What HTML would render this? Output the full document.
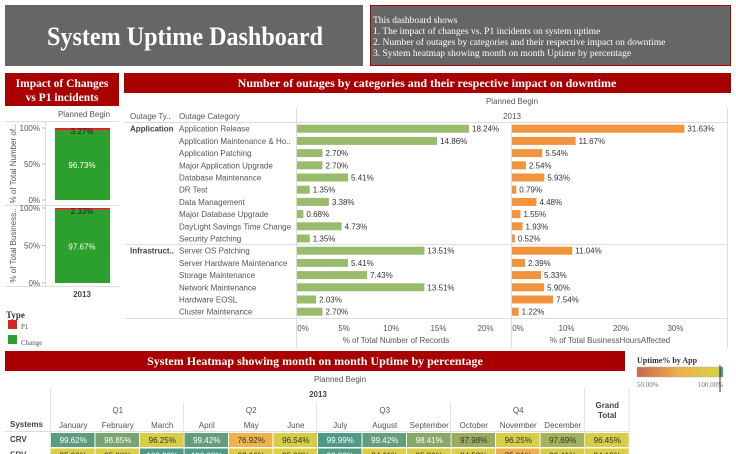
<!DOCTYPE html>
<html><head><meta charset="utf-8"><style>
body{margin:0;width:736px;height:454px;overflow:hidden;background:#fff;font-family:"Liberation Sans",sans-serif}
svg{display:block}
.t{font-family:"Liberation Sans",sans-serif;font-size:8px;fill:#555}
.s{font-family:"Liberation Serif",serif}
</style></head><body>
<svg id="c" width="736" height="454">
<rect x="5" y="5" width="358" height="61" fill="#666"/>
<text x="185" y="45" text-anchor="middle" class="s" font-size="26" font-weight="bold" fill="#fff" textLength="276" lengthAdjust="spacingAndGlyphs">System Uptime Dashboard</text>
<rect x="370.5" y="5.5" width="360" height="60" fill="#666" stroke="#a00"/>
<g class="s" font-size="9.5" fill="#fff">
<text x="373" y="23">This dashboard shows</text>
<text x="373" y="34">1. The impact of changes vs. P1 incidents on system uptime</text>
<text x="373" y="45">2. Number of outages by categories and their respective impact on downtime</text>
<text x="373" y="56">3. System heatmap showing month on month Uptime by percentage</text>
</g>
<rect x="5" y="73" width="114" height="33" fill="#a80000"/>
<text x="62" y="87" text-anchor="middle" class="s" font-size="11.5" font-weight="bold" fill="#fff">Impact of Changes</text>
<text x="62" y="101" text-anchor="middle" class="s" font-size="11.5" font-weight="bold" fill="#fff">vs P1 incidents</text>
<rect x="124" y="73" width="607" height="20" fill="#a80000"/>
<text x="427" y="87" text-anchor="middle" class="s" font-size="12" font-weight="bold" fill="#fff">Number of outages by categories and their respective impact on downtime</text>
<rect x="5" y="351" width="620" height="20" fill="#a80000"/>
<text x="315" y="365" text-anchor="middle" class="s" font-size="12" font-weight="bold" fill="#fff">System Heatmap showing month on month Uptime by percentage</text>
<g id="left"></g><g id="bars"></g><g id="heat"></g>
<g>
<text x="637" y="363" class="s" font-size="8" font-weight="bold" fill="#333">Uptime% by App</text>
<defs><linearGradient id="lg"><stop offset="0" stop-color="#c9674a"/><stop offset="0.5" stop-color="#efb24c"/><stop offset="0.9" stop-color="#d9cf45"/><stop offset="0.95" stop-color="#d9cf45"/><stop offset="0.97" stop-color="#4e9a86"/></linearGradient></defs>
<rect x="637" y="367" width="86" height="10" fill="url(#lg)" stroke="#aaa" stroke-width="0.5"/>
<line x1="720" y1="365" x2="720" y2="392" stroke="#333"/>
<text x="637" y="387" class="s" font-size="7" fill="#777">50.00%</text>
<text x="723" y="387" text-anchor="end" class="s" font-size="7" fill="#777">100.00%</text>
</g>
</svg>
<script>
const NS="http://www.w3.org/2000/svg";
function mk(p,tag,a,txt){const e=document.createElementNS(NS,tag);for(const k in a)e.setAttribute(k,a[k]);if(txt!=null)e.textContent=txt;p.appendChild(e);return e;}

// ---- Left stacked chart data ----
const stackYears=["2013"];
const p1Records=[3.27];
const changeRecords=[96.73];
const p1Hours=[2.33];
const changeHours=[97.67];

// ---- Bar chart data ----
const outageTypes=["Application","Infrastruct.."];
const categories=["Application Release","Application Maintenance & Ho..","Application Patching","Major Application Upgrade","Database Maintenance","DR Test","Data Management","Major Database Upgrade","DayLight Savings Time Change","Security Patching","Server OS Patching","Server Hardware Maintenance","Storage Maintenance","Network Maintenance","Hardware EOSL","Cluster Maintenance"];
const categoryType=[0,0,0,0,0,0,0,0,0,0,1,1,1,1,1,1];
const pctRecords=[18.24,14.86,2.70,2.70,5.41,1.35,3.38,0.68,4.73,1.35,13.51,5.41,7.43,13.51,2.03,2.70];
const pctHours=[31.63,11.67,5.54,2.54,5.93,0.79,4.48,1.55,1.93,0.52,11.04,2.39,5.33,5.90,7.54,1.22];
const recTicks=[0,5,10,15,20];
const hourTicks=[0,10,20,30];

// ---- Heatmap data ----
const quarters=["Q1","Q2","Q3","Q4"];
const months=["January","February","March","April","May","June","July","August","September","October","November","December"];
const systems=["CRV","ERV"];
const uptimeCRV=[99.62,98.85,96.25,99.42,76.92,96.54,99.99,99.42,98.41,97.98,96.25,97.69];
const uptimeERV=[95.00,95.00,100.00,100.00,93.16,95.00,99.93,94.11,95.00,94.53,75.01,96.41];
const grandTotals=[96.45,94.18];

// Left chart
const L=document.getElementById('left');
mk(L,'text',{x:84,y:117,'text-anchor':'middle',class:'t'},'Planned Begin');
mk(L,'line',{x1:5,y1:121.5,x2:119,y2:121.5,stroke:'#ddd'});
mk(L,'line',{x1:5,y1:205.5,x2:119,y2:205.5,stroke:'#ddd'});
mk(L,'line',{x1:5,y1:286.5,x2:119,y2:286.5,stroke:'#ddd'});
mk(L,'line',{x1:45.5,y1:122,x2:45.5,y2:287,stroke:'#ddd'});
function stack(y0,y1,p1,ch,title,nm){
  const h=y1-y0,y=v=>y1-v/100*h;
  mk(L,'text',{transform:`translate(16,${(y0+y1)/2}) rotate(-90)`,'text-anchor':'middle',class:'t'},title);
  [[100,'100%'],[50,'50%'],[0,'0%']].forEach(t=>{mk(L,'text',{x:40,y:y(t[0])+3,'text-anchor':'end',class:'t'},t[1]);mk(L,'line',{x1:42,y1:y(t[0]),x2:45,y2:y(t[0]),stroke:'#bbb'});});
  let r=mk(L,'rect',{x:55,y:y(ch),width:55,height:y(0)-y(ch),fill:'#2ca02c'});
  
  
  r=mk(L,'rect',{x:55,y:y(100),width:55,height:y(ch)-y(100),fill:'#d62728'});
  
  
  mk(L,'text',{x:82,y:y(100)+6,'text-anchor':'middle',class:'t',style:'fill:#222'},p1.toFixed(2)+'%');
  mk(L,'text',{x:82,y:y(ch/2)+3,'text-anchor':'middle',class:'t',style:'fill:#fff'},ch.toFixed(2)+'%');
}
stack(128,200,p1Records[0],changeRecords[0],'% of Total Number of..','records');
stack(208,283,p1Hours[0],changeHours[0],'% of Total Business..','hours');
mk(L,'text',{x:82,y:297,'text-anchor':'middle',class:'t',style:'font-weight:bold;fill:#444'},stackYears[0]);
mk(L,'text',{x:6,y:318,class:'s','font-size':9,'font-weight':'bold',fill:'#333'},'Type');
let lg=mk(L,'rect',{x:8,y:320,width:9,height:9,fill:'#d62728'});


mk(L,'text',{x:21,y:329,class:'s','font-size':7,fill:'#555'},'P1');
lg=mk(L,'rect',{x:8,y:335,width:9,height:9,fill:'#2ca02c'});


mk(L,'text',{x:21,y:345,class:'s','font-size':7,fill:'#555'},'Change');

// Bar chart
const B=document.getElementById('bars');
const x1=v=>297+v*9.43, x2=v=>512+v*5.45;
const rowY=i=>128.7+i*12.2;
mk(B,'text',{x:512,y:104,'text-anchor':'middle',class:'t'},'Planned Begin');
mk(B,'text',{x:512,y:119,'text-anchor':'middle',class:'t'},stackYears[0]);
mk(B,'text',{x:130,y:119,class:'t'},'Outage Ty..');
mk(B,'text',{x:179,y:119,class:'t'},'Outage Category');
mk(B,'line',{x1:124,y1:122.5,x2:728,y2:122.5,stroke:'#ddd'});
mk(B,'line',{x1:125,y1:244.5,x2:728,y2:244.5,stroke:'#ddd'});
mk(B,'line',{x1:125,y1:318.5,x2:728,y2:318.5,stroke:'#ddd'});
[[296.5,108],[511.5,123],[727.5,108]].forEach(p=>mk(B,'line',{x1:p[0],y1:p[1],x2:p[0],y2:348,stroke:'#ddd'}));
outageTypes.forEach((t,k)=>{const i=categoryType.indexOf(k);mk(B,'text',{x:130,y:rowY(i)+3,class:'t',style:'font-weight:bold;fill:#444'},t);});
categories.forEach((c,i)=>{
  const y=rowY(i);
  mk(B,'text',{x:179,y:y+3,class:'t'},c);
  let r=mk(B,'rect',{x:297,y:y-4,width:x1(pctRecords[i])-297,height:8,fill:'#98bb6d'});
  
  
  mk(B,'text',{x:x1(pctRecords[i])+3,y:y+3,class:'t',style:'fill:#333'},pctRecords[i].toFixed(2)+'%');
  r=mk(B,'rect',{x:512,y:y-4,width:x2(pctHours[i])-512,height:8,fill:'#f1943b'});
  
  
  mk(B,'text',{x:x2(pctHours[i])+3,y:y+3,class:'t',style:'fill:#333'},pctHours[i].toFixed(2)+'%');
});
recTicks.forEach(v=>mk(B,'text',{x:x1(v)+(v?0:6),y:331,'text-anchor':'middle',class:'t'},v+'%'));
hourTicks.forEach(v=>mk(B,'text',{x:x2(v)+(v?0:6),y:331,'text-anchor':'middle',class:'t'},v+'%'));
mk(B,'text',{x:396,y:343,'text-anchor':'middle',class:'t'},'% of Total Number of Records');
mk(B,'text',{x:610,y:343,'text-anchor':'middle',class:'t'},'% of Total BusinessHoursAffected');

// Heatmap
const H=document.getElementById('heat');
const cw=44.5,cx=i=>51+i*cw;
function col(v){
  const st=[[50,[201,103,74]],[76,[240,178,78]],[95,[220,207,70]],[96.5,[215,205,70]],[98,[150,172,94]],[100,[78,154,134]]];
  if(v<=st[0][0])return 'rgb('+st[0][1]+')';
  for(let k=1;k<st.length;k++){if(v<=st[k][0]){const a=st[k-1],b=st[k],t=(v-a[0])/(b[0]-a[0]);return 'rgb('+a[1].map((c,j)=>Math.round(c+(b[1][j]-c)*t))+')';}}
  return 'rgb('+st[st.length-1][1]+')';
}
mk(H,'text',{x:340,y:382,'text-anchor':'middle',class:'t'},'Planned Begin');
mk(H,'text',{x:318,y:397,'text-anchor':'middle',class:'t',style:'font-weight:bold;fill:#444'},stackYears[0]);
mk(H,'text',{x:10,y:427,class:'t',style:'font-weight:bold;fill:#444'},'Systems');
[50.5,183.5,316.5,450.5,584.5,629].forEach((x,i)=>mk(H,'line',{x1:x,y1:i==0||i>=4?388:402,x2:x,y2:454,stroke:'#e4e4e4'}));
mk(H,'line',{x1:5,y1:431.5,x2:630,y2:431.5,stroke:'#ddd'});
quarters.forEach((q,i)=>mk(H,'text',{x:cx(i*3+1.5),y:413,'text-anchor':'middle',class:'t'},q));
months.forEach((m,i)=>mk(H,'text',{x:cx(i+0.5),y:428,'text-anchor':'middle',class:'t'},m));
mk(H,'text',{x:cx(12.5),y:408,'text-anchor':'middle',class:'t',style:'font-weight:bold;fill:#444'},'Grand');
mk(H,'text',{x:cx(12.5),y:418,'text-anchor':'middle',class:'t',style:'font-weight:bold;fill:#444'},'Total');
[uptimeCRV,uptimeERV].forEach((arr,r)=>{
  const y=433+r*15.5;
  mk(H,'text',{x:10,y:y+9,class:'t',style:'font-weight:bold;fill:#444'},systems[r]);
  arr.concat([grandTotals[r]]).forEach((v,i)=>{
    const c=mk(H,'rect',{x:cx(i),y:y,width:cw-1,height:14,fill:col(v)});
    
    
    mk(H,'text',{x:cx(i+0.5),y:y+10,'text-anchor':'middle',class:'t',style:'fill:'+(v>=98.3?'#fff':'#333')},v.toFixed(2)+'%');
  });
});
</script>
</body></html>
